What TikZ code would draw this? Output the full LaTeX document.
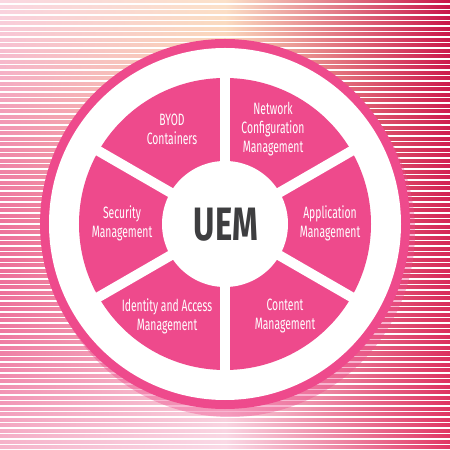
\documentclass[tikz,border=0pt]{standalone}
\usepackage{fontspec}
\newfontfamily\labfont[FakeStretch=0.63]{Fira Sans}
\newfontfamily\uemfont[FakeStretch=0.7]{Fira Sans}
\definecolor{uempink}{RGB}{238,74,140}
\definecolor{uemgray}{RGB}{62,62,64}
\definecolor{topL}{RGB}{240,140,170}
\definecolor{topM}{RGB}{244,170,100}
\definecolor{topR}{RGB}{200,20,72}
\definecolor{botL}{RGB}{228,40,105}
\definecolor{botM}{RGB}{240,150,185}
\definecolor{botR}{RGB}{225,55,100}
\tikzset{
  seglabel/.style={text=white, align=center, font=\labfont\fontsize{16.5}{19}\selectfont, inner sep=0pt},
  gapline/.style={white, line width=10bp}
}
\begin{document}
\begin{tikzpicture}[x=1bp,y=1bp]
\useasboundingbox (-225,-226) rectangle (225,224);
\fill[white] (-225,-226) rectangle (225,224);
% striped background
\foreach \i in {0,...,81}{
  \pgfmathsetmacro\yy{224-\i*5.5}
  \pgfmathtruncatemacro\p{100-100*\i/81}
  \pgfmathtruncatemacro\w{35+50*sin(180*\i/81)}
  \colorlet{SL}{topL!\p!botL}
  \colorlet{SM}{topM!\p!botM}
  \colorlet{SR}{topR!\p!botR}
  \shade[left color=SL!\w!white, right color=SR, middle color=SM!\w!white] (-225,\yy) rectangle (225,\yy-3);
}
% shadow
\fill[uempink, opacity=0.4] (5,-8) circle (185);
% outer ring
\fill[uempink] (0,0) circle (185);
\fill[white] (0,0) circle (176);
% segments
\fill[uempink] (0,0) circle (146);
\foreach \a in {30,90,150,210,270,330}{
  \draw[gapline] (0,0) -- (\a:152);
}
\fill[white] (0,0) circle (63);
% labels
\node[seglabel] (byod) at (-53,95) {BYOD\\Containers};
\node[seglabel] (net) at (48,95) {Network\\Configuration\\Management};
\node[seglabel] (app) at (105,1) {Application\\Management};
\node[seglabel] (cont) at (60,-92) {Content\\Management};
\node[seglabel] (iam) at (-58,-92) {Identity and Access\\Management};
\node[seglabel] (sec) at (-103,1) {Security\\Management};
\node[text=uemgray, font=\uemfont\bfseries\fontsize{47}{50}\selectfont, inner sep=0pt] (uem) at (1,-0.5) {UEM};
\end{tikzpicture}
\end{document}
